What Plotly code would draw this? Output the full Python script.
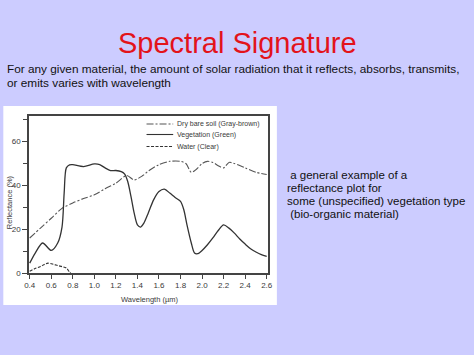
import plotly.graph_objects as go

# ---------------- data ----------------
soil_x = [0.4, 0.5, 0.6, 0.7, 0.8, 0.9, 1.0, 1.1, 1.2, 1.3, 1.37, 1.45, 1.5, 1.6, 1.7, 1.8,
          1.85, 1.9, 1.95, 2.0, 2.05, 2.1, 2.15, 2.2, 2.25, 2.3, 2.4, 2.5, 2.6]
soil_y = [16, 20.5, 25, 29.5, 32, 34, 35.7, 38.5, 41, 44.5, 42.5, 44.5, 46.5, 49.5, 51, 51,
          50, 46, 47.5, 50, 51, 50.5, 49, 48, 50.5, 50, 48, 46, 45]

veg_x = [0.4, 0.45, 0.52, 0.6, 0.66, 0.7, 0.72, 0.74, 0.77, 0.8, 0.9, 1.0, 1.05, 1.1, 1.15,
         1.2, 1.25, 1.28, 1.31, 1.34, 1.37, 1.4, 1.43, 1.46, 1.5, 1.55, 1.6, 1.65, 1.7, 1.75,
         1.8, 1.83, 1.86, 1.9, 1.93, 1.96, 2.0, 2.05, 2.1, 2.15, 2.2, 2.25, 2.3, 2.35, 2.4,
         2.45, 2.5, 2.55, 2.6]
veg_y = [4.5, 9, 13.7, 10.3, 13.7, 21, 36.5, 48, 49.4, 49.5, 48.6, 49.8, 49.5, 48, 46.8,
         46.8, 46.3, 45.3, 41.8, 35, 27.3, 22, 21, 22.8, 27.3, 33.4, 37.2, 38.3, 36.5, 34.5,
         32.7, 29, 22, 13.7, 9.1, 8.8, 10.3, 12.9, 16, 19.4, 22, 20.5, 18.2, 15.5, 13.2,
         11.1, 9.6, 8.4, 7.6]

water_x = [0.4, 0.45, 0.5, 0.54, 0.57, 0.62, 0.66, 0.7, 0.74, 0.77, 0.78]
water_y = [0.8, 2.0, 3.0, 4.0, 4.5, 4.0, 3.4, 2.9, 2.3, 0.4, 0.0]

x_ticks = [0.4, 0.6, 0.8, 1.0, 1.2, 1.4, 1.6, 1.8, 2.0, 2.2, 2.4, 2.6]
y_ticks = [0, 20, 40, 60]

legend_names = ["Dry bare soil (Gray-brown)", "Vegetation (Green)", "Water (Clear)"]
legend_dash = ["7px,2px,2px,2px", "solid", "3px,1.5px"]

# ---------------- layout helpers ----------------
W, H = 474, 355
L, R, T, B = 26, 206, 116, 82
PW, PH = W - L - R, H - T - B


def px(x):
    return (x - L) / PW


def py(y):
    return (H - B - y) / PH


LINE = "#333333"
TXT = "#3a3a3a"
FONT = "Liberation Sans, Arial, sans-serif"

fig = go.Figure()
fig.add_trace(go.Scatter(x=soil_x, y=soil_y, mode="lines", name=legend_names[0],
                         line=dict(color="#555555", width=1.1, dash=legend_dash[0], shape="spline", smoothing=0.8)))
fig.add_trace(go.Scatter(x=veg_x, y=veg_y, mode="lines", name=legend_names[1],
                         line=dict(color=LINE, width=1.3, dash=legend_dash[1], shape="spline", smoothing=0.8)))
fig.add_trace(go.Scatter(x=water_x, y=water_y, mode="lines", name=legend_names[2],
                         line=dict(color=LINE, width=1.1, dash=legend_dash[2], shape="spline", smoothing=0.8)))

shapes = [
    # white picture area
    dict(type="rect", xref="paper", yref="paper", x0=px(0), x1=px(277), y0=py(305), y1=py(106),
         fillcolor="white", line=dict(width=0), layer="below"),
]
annotations = []
leg_y = [124, 134.5, 146.5]
for name, dash, yy, col in zip(legend_names, legend_dash, leg_y, ["#555555", LINE, LINE]):
    shapes.append(dict(type="line", xref="paper", yref="paper", x0=px(145), x1=px(172),
                       y0=py(yy), y1=py(yy), line=dict(color=col, width=1.1, dash=dash)))
    annotations.append(dict(xref="paper", yref="paper", x=px(174), y=py(yy), text=name,
                            showarrow=False, xanchor="left", yanchor="middle",
                            font=dict(family=FONT, size=7, color=TXT)))

# axis titles
annotations.append(dict(xref="paper", yref="paper", x=px(148), y=py(299), text="Wavelength (µm)",
                        showarrow=False, xanchor="center", yanchor="middle",
                        font=dict(family=FONT, size=7.5, color=TXT)))
annotations.append(dict(xref="paper", yref="paper", x=px(6), y=py(202), text="Reflectance (%)",
                        showarrow=False, xanchor="center", yanchor="middle", textangle=-90,
                        font=dict(family=FONT, size=7.5, color=TXT)))

# slide texts
annotations.append(dict(xref="paper", yref="paper", x=px(237), y=py(43), text="Spectral Signature",
                        showarrow=False, xanchor="center", yanchor="middle",
                        font=dict(family=FONT, size=29, color="#E3131B")))
sub_lines = ["For any given material, the amount of solar radiation that it reflects, absorbs, transmits,",
             "or emits varies with wavelength"]
for line, yy in zip(sub_lines, [69, 83]):
    annotations.append(dict(xref="paper", yref="paper", x=px(2), y=py(yy), text=line,
                            showarrow=False, xanchor="left", yanchor="middle",
                            font=dict(family=FONT, size=11.8, color="#111111")))
side_lines = [" a general example of a", "reflectance plot for",
              "some (unspecified) vegetation type", " (bio-organic material)"]
for line, yy in zip(side_lines, [175, 188, 201, 214]):
    annotations.append(dict(xref="paper", yref="paper", x=px(285), y=py(yy),
                            text=line.replace(" ", "&nbsp;", 1) if line.startswith(" ") else line,
                            showarrow=False, xanchor="left", yanchor="middle",
                            font=dict(family=FONT, size=11.5, color="#111111")))

fig.update_layout(
    width=W, height=H,
    margin=dict(l=L, r=R, t=T, b=B, pad=0),
    paper_bgcolor="#CCCCFF",
    plot_bgcolor="white",
    showlegend=False,
    shapes=shapes,
    annotations=annotations,
    xaxis=dict(range=[0.3936, 2.612], tickvals=x_ticks, tickformat=".1f",
               showline=True, linecolor="#444444", linewidth=1.5, mirror=True,
               ticks="outside", ticklen=4, tickcolor="#444444", tickwidth=1,
               showgrid=False, zeroline=False,
               tickfont=dict(family=FONT, size=8, color=TXT)),
    yaxis=dict(range=[0, 71.7], tickvals=y_ticks,
               showline=True, linecolor="#444444", linewidth=1.5, mirror=True,
               ticks="outside", ticklen=5, tickcolor="#444444", tickwidth=1,
               minor=dict(tickvals=[10, 30, 50, 70], ticks="outside", ticklen=4,
                          tickcolor="#444444", showgrid=False),
               showgrid=False, zeroline=False,
               tickfont=dict(family=FONT, size=8, color=TXT)),
)

fig.write_html("out.html", config={"displayModeBar": False})
